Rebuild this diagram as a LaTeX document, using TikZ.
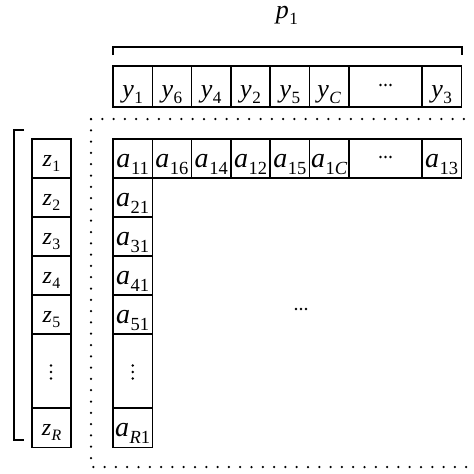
\documentclass[tikz,border=0pt]{standalone}
\usepackage{fontspec}
\setmainfont{Liberation Serif}
\newcommand\msub[2]{\textit{#1}\kern0.02em\raisebox{-0.24em}{\scalebox{0.66}{#2}}}
\begin{document}
\begin{tikzpicture}[x=1pt,y=-1pt,
  cellbox/.style={draw,line width=1.6pt},
  bracketline/.style={line width=1.6pt},
  dotline/.style={line width=2.5pt,line cap=round,dash pattern=on 0pt off 11.3pt},
  dotc/.style={circle,fill,inner sep=0pt,minimum size=2.8pt},
  ylab/.style={anchor=base,inner sep=0pt,font=\fontsize{26}{26}\selectfont},
  alab/.style={anchor=base,inner sep=0pt,font=\fontsize{28}{28}\selectfont},
  zlab/.style={anchor=base,inner sep=0pt,font=\fontsize{24}{24}\selectfont}]
\useasboundingbox (0,0) rectangle (474,474);
% p1 and top bracket
\node[anchor=base,inner sep=0pt,text height=12pt,font=\fontsize{26}{26}\selectfont] (p) at (287,18) {\msub{p}{1}};
\coordinate (tb1) at (113,55); \coordinate (tb2) at (113,47);
\coordinate (tb3) at (462,47); \coordinate (tb4) at (462,55);
\draw[bracketline] (tb1) -- (tb2) -- (tb3) -- (tb4);
% left bracket
\coordinate (lb1) at (24,130); \coordinate (lb2) at (14,130);
\coordinate (lb3) at (14,440); \coordinate (lb4) at (24,440);
\draw[bracketline] (lb1) -- (lb2) -- (lb3) -- (lb4);
% dotted frame
\coordinate (d0) at (91,119); \coordinate (d1) at (474,119);
\coordinate (d2) at (91,467); \coordinate (d3) at (474,467);
\draw[dotline] (d0) -- (d1);
\draw[dotline] (d0) -- (d2) -- (d3);
% y row
\foreach \l/\r/\t [count=\i] in {113/152.3/{\msub{y}{1}},152.3/191.6/{\msub{y}{6}},191.6/230.9/{\msub{y}{4}},230.9/270.2/{\msub{y}{2}},270.2/309.5/{\msub{y}{5}},309.5/348.8/{\msub{y}{\textit{C}}},422/461.3/{\msub{y}{3}}}{
  \draw[cellbox] (\l,66) rectangle (\r,107);
  \node[ylab] (y\i) at ({(\l+\r)/2},97.5) {\t};
}
\draw[cellbox] (348.8,66) rectangle (422,107);
\foreach \k in {-1,0,1} \node[dotc] (yd\k) at (385.4+5*\k,85) {};
% a row
\foreach \l/\r/\t [count=\i] in {113/152.3/{\msub{a}{11}},152.3/191.6/{\msub{a}{16}},191.6/230.9/{\msub{a}{14}},230.9/270.2/{\msub{a}{12}},270.2/309.5/{\msub{a}{15}},309.5/348.8/{\msub{a}{1\textit{C}}},422/461.3/{\msub{a}{13}}}{
  \draw[cellbox] (\l,139) rectangle (\r,178);
  \node[alab] (ar\i) at ({(\l+\r)/2},167.5) {\t};
}
\draw[cellbox] (348.8,139) rectangle (422,178);
\foreach \k in {-1,0,1} \node[dotc] (ad\k) at (385.4+5*\k,157) {};
% a column
\foreach \t/\u/\lab [count=\i] in {178/217/{\msub{a}{21}},217/256/{\msub{a}{31}},256/295/{\msub{a}{41}},295/334/{\msub{a}{51}},408/447.5/{\msub{a}{\textit{R}1}}}{
  \draw[cellbox] (113,\t) rectangle (152.3,\u);
  \node[alab] (ac\i) at (132.6,\t+28.5) {\lab};
}
\draw[cellbox] (113,334) rectangle (152.3,408);
\foreach \k in {-1,0,1} \node[dotc] (acd\k) at (132.8,372+6.5*\k) {};
% z column
\foreach \t/\u/\lab [count=\i] in {139/178/{\msub{z}{1}},178/217/{\msub{z}{2}},217/256/{\msub{z}{3}},256/295/{\msub{z}{4}},295/334/{\msub{z}{5}},408/447.5/{\msub{z}{\textit{R}}}}{
  \draw[cellbox] (32,\t) rectangle (71,\u);
  \node[zlab] (z\i) at (51.5,\t+27) {\lab};
}
\draw[cellbox] (32,334) rectangle (71,408);
\foreach \k in {-1,0,1} \node[dotc] (zd\k) at (51,372+6.5*\k) {};
% middle dots
\foreach \k in {-1,0,1} \node[dotc] (md\k) at (301+5*\k,309) {};
\end{tikzpicture}
\end{document}
